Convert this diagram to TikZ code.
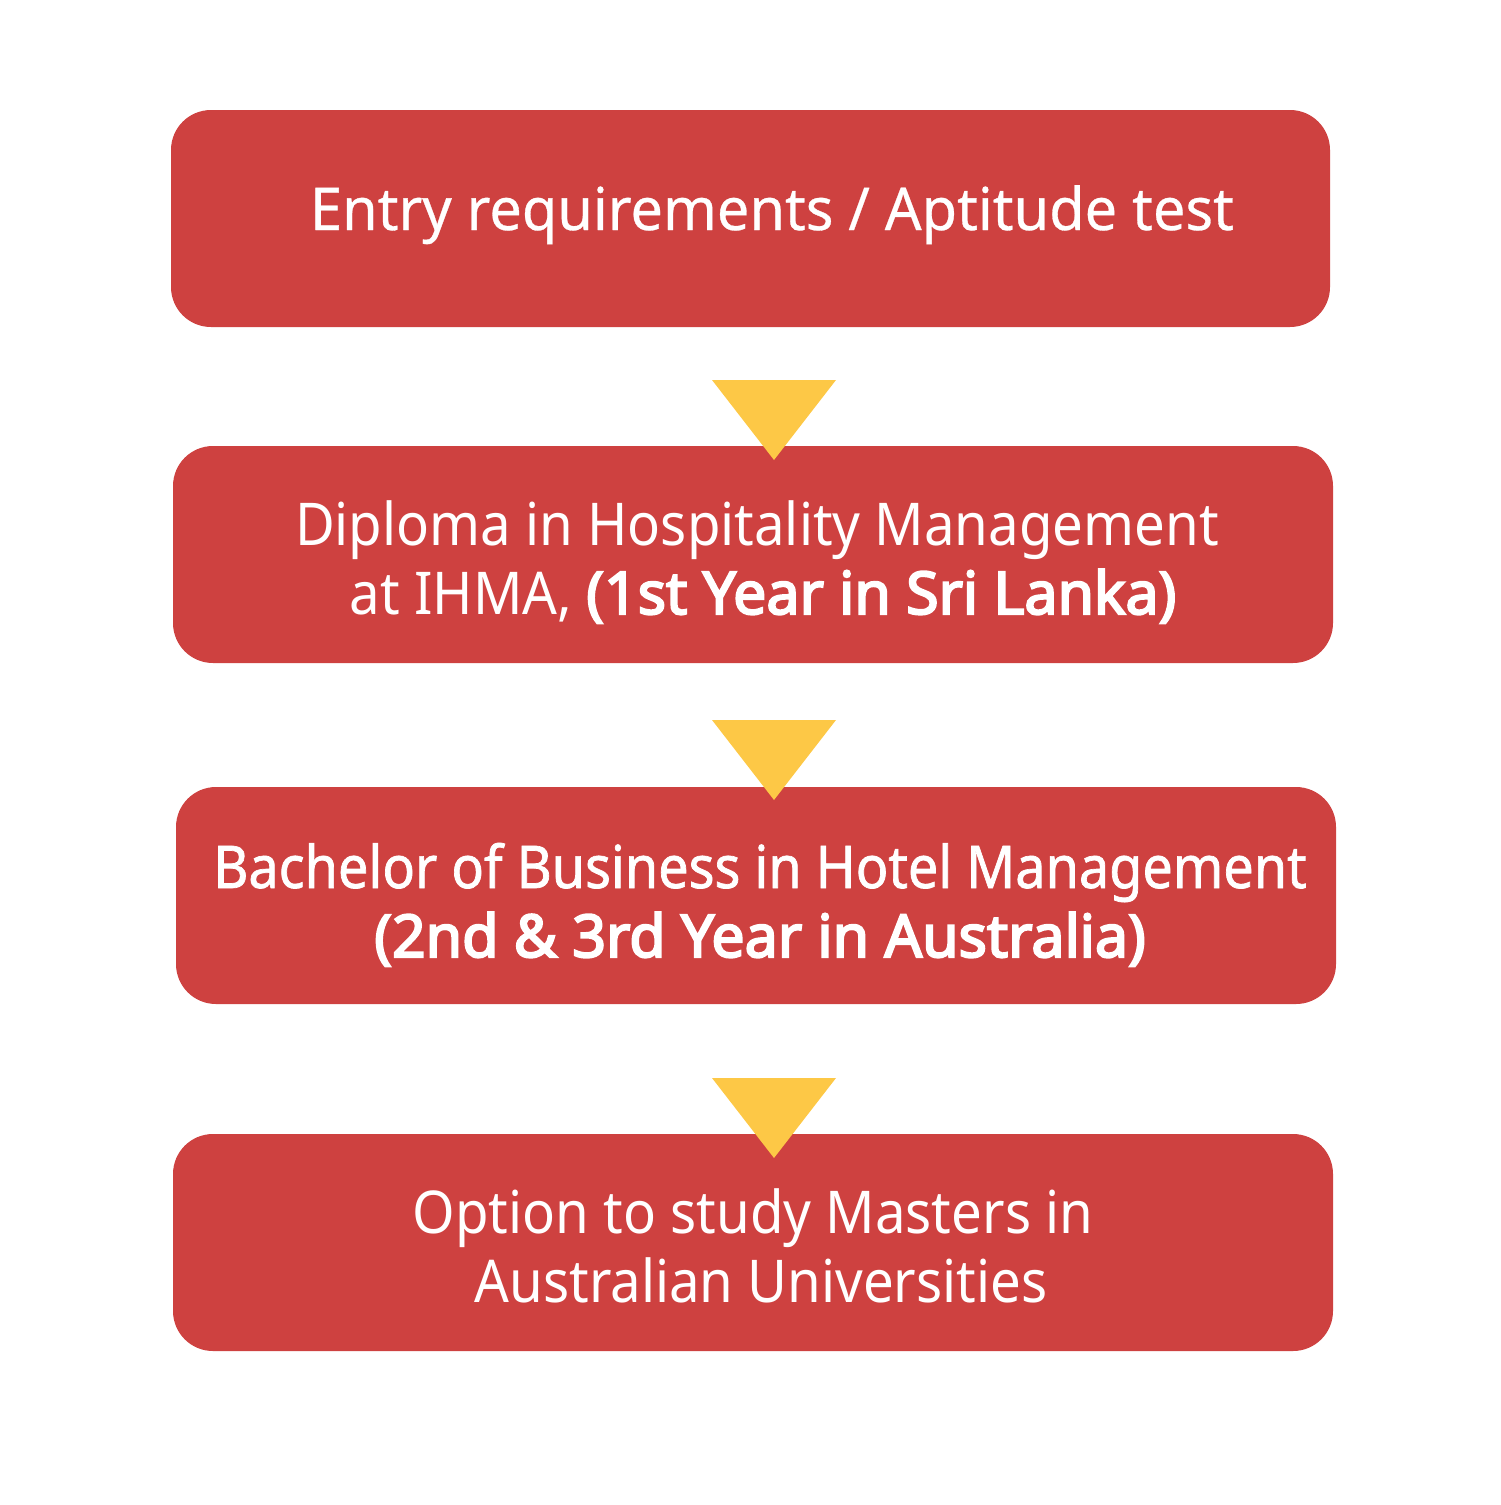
\documentclass[tikz,border=0pt]{standalone}
\usepackage{fontspec}
\setmainfont[FakeStretch=0.925]{Noto Sans}
\newfontfamily\semib[FakeStretch=0.915,FakeBold=1.2]{Noto Sans}
\newfontfamily\medf[FakeStretch=0.977,FakeBold=0.5]{Noto Sans}
\newfontfamily\boldf[FakeStretch=1.0,FakeBold=3.5]{Noto Sans}
\definecolor{boxred}{HTML}{CE4140}
\definecolor{arrowyellow}{HTML}{FDC846}
\tikzset{
  stepbox/.style={fill=boxred, draw=none, rounded corners=20pt},
  tri/.style={fill=arrowyellow, draw=none},
  txt/.style={text=white, anchor=base, inner sep=0pt, font=\fontsize{29.5pt}{35pt}\selectfont}
}
\begin{document}
\begin{tikzpicture}[x=0.5pt,y=-0.5pt]
\useasboundingbox (0,0) rectangle (1500,1505);
\fill[stepbox] (171,110) rectangle (1330,327);
\fill[stepbox] (173,446) rectangle (1333,663);
\fill[stepbox] (176,787) rectangle (1336,1004);
\fill[stepbox] (173,1134) rectangle (1333,1351);
\node[txt] (t1) at (772,230) {\medf Entry requirements / Aptitude test};
\node[txt] (t2a) at (757,545) {Diploma in Hospitality Management};
\node[txt] (t2b) at (763,614) {at IHMA, {\boldf (1st Year in Sri Lanka)}};
\node[txt] (t3a) at (760,888) {\semib Bachelor of Business in Hotel Management};
\node[txt] (t3b) at (760,957) {\boldf (2nd \& 3rd Year in Australia)};
\node[txt] (t4a) at (753,1233) {Option to study Masters in};
\node[txt] (t4b) at (761,1302) {Australian Universities};
\fill[tri] (712,380) -- (836,380) -- (774,460) -- cycle;
\fill[tri] (712,720) -- (836,720) -- (774,800) -- cycle;
\fill[tri] (712,1078) -- (836,1078) -- (774,1158) -- cycle;
\end{tikzpicture}
\end{document}
